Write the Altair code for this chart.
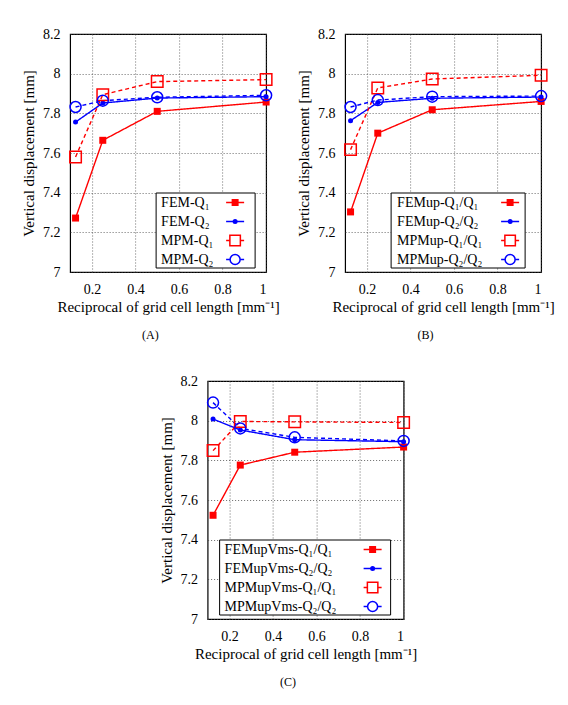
import altair as alt
import pandas as pd

FONT = "Liberation Serif"

# x positions (reciprocal of grid cell length)
X = [0.125, 0.25, 0.5, 1.0]
X_TICKS = [0.2, 0.4, 0.6, 0.8, 1.0]
Y_TICKS = [7.0, 7.2, 7.4, 7.6, 7.8, 8.0, 8.2]

# Panel (A)
A_NAMES = ["FEM-Q₁", "FEM-Q₂", "MPM-Q₁", "MPM-Q₂"]
A_FEM_Q1 = [7.272, 7.664, 7.810, 7.857]
A_FEM_Q2 = [7.756, 7.852, 7.877, 7.884]
A_MPM_Q1 = [7.580, 7.894, 7.960, 7.970]
A_MPM_Q2 = [7.832, 7.864, 7.881, 7.891]

# Panel (B)
B_NAMES = ["FEMup-Q₁/Q₁", "FEMup-Q₂/Q₂", "MPMup-Q₁/Q₁", "MPMup-Q₂/Q₂"]
B_FEM_Q1 = [7.303, 7.700, 7.818, 7.860]
B_FEM_Q2 = [7.763, 7.855, 7.876, 7.882]
B_MPM_Q1 = [7.617, 7.928, 7.973, 7.992]
B_MPM_Q2 = [7.832, 7.867, 7.884, 7.887]

# Panel (C)
C_NAMES = ["FEMupVms-Q₁/Q₁", "FEMupVms-Q₂/Q₂", "MPMupVms-Q₁/Q₁", "MPMupVms-Q₂/Q₂"]
C_FEM_Q1 = [7.523, 7.776, 7.841, 7.867]
C_FEM_Q2 = [8.008, 7.953, 7.904, 7.894]
C_MPM_Q1 = [7.849, 7.996, 7.994, 7.991]
C_MPM_Q2 = [8.091, 7.961, 7.916, 7.898]

ALL_NAMES = A_NAMES + B_NAMES + C_NAMES

COLORS = ["#ff0000", "#0000ff", "#ff0000", "#0000ff"]
DASHES = [[1, 0], [1, 0], [4, 3], [4, 3]]
POINT_SHAPES = ["square", "circle", "square", "circle"]
POINT_SIZES = [49, 25, 132, 121]
LEGEND_SIZES = [49, 25, 110, 100]
POINT_FILLED = [True, True, False, False]

XTITLE = "Reciprocal of grid cell length [mm⁻¹]"
YTITLE = "Vertical displacement [mm]"

# legend box layout (pixels inside each plot area)
LEG_ROWS = [168.5, 187.5, 206.5, 225.5]
LEG_TOP, LEG_BOTTOM = 159, 234
LEG_SYM_X, LEG_LINE_X1, LEG_LINE_X2 = 165, 156, 174


def panel(names, series, caption, box_x1, box_x2, label_x):
    rows = []
    for name, vals in zip(names, series):
        for xv, yv in zip(X, vals):
            rows.append({"x": xv, "y": yv, "series": name})
    df = pd.DataFrame(rows)
    base = alt.Chart(df)
    xenc = alt.X(
        "x:Q",
        scale=alt.Scale(domain=[0.1, 1.0], nice=False, zero=False),
        axis=alt.Axis(values=X_TICKS, format="~g", title=XTITLE),
    )
    yenc = alt.Y(
        "y:Q",
        scale=alt.Scale(domain=[7.0, 8.2], nice=False, zero=False),
        axis=alt.Axis(values=Y_TICKS, format="~g", title=YTITLE),
    )
    lines = base.mark_line(strokeWidth=1.4).encode(
        x=xenc,
        y=yenc,
        color=alt.Color("series:N", scale=alt.Scale(domain=ALL_NAMES, range=COLORS * 3), legend=None),
        strokeDash=alt.StrokeDash("series:N", scale=alt.Scale(domain=ALL_NAMES, range=DASHES * 3), legend=None),
    )
    layers = [lines]
    for k in range(4):
        layers.append(
            base.transform_filter(alt.datum.series == names[k])
            .mark_point(
                shape=POINT_SHAPES[k],
                size=POINT_SIZES[k],
                filled=POINT_FILLED[k],
                color=COLORS[k],
                strokeWidth=1.5,
                opacity=1,
            )
            .encode(x=xenc, y=yenc)
        )

    # legend (drawn as a boxed key inside the plot, like the original)
    one = alt.Chart(pd.DataFrame({"one": [0]}))
    layers.append(
        one.mark_rect(fill="white", stroke="black", strokeWidth=1).encode(
            x=alt.value(box_x1), x2=alt.value(box_x2),
            y=alt.value(LEG_TOP), y2=alt.value(LEG_BOTTOM),
        )
    )
    for k in range(4):
        ry = LEG_ROWS[k]
        lab = alt.Chart(pd.DataFrame({"label": [names[k]]}))
        layers.append(
            lab.mark_text(align="left", baseline="middle", font=FONT, fontSize=14, color="black").encode(
                x=alt.value(label_x), y=alt.value(ry), text="label:N"
            )
        )
        layers.append(
            one.mark_rule(color=COLORS[k], strokeWidth=1.4, strokeDash=DASHES[k]).encode(
                x=alt.value(LEG_LINE_X1), x2=alt.value(LEG_LINE_X2), y=alt.value(ry)
            )
        )
        layers.append(
            one.mark_point(
                shape=POINT_SHAPES[k],
                size=LEGEND_SIZES[k],
                filled=POINT_FILLED[k],
                color=COLORS[k],
                fill=COLORS[k] if POINT_FILLED[k] else "white",
                strokeWidth=1.5,
                opacity=1,
            ).encode(x=alt.value(LEG_SYM_X), y=alt.value(ry))
        )

    return alt.layer(*layers).properties(
        width=196,
        height=238,
        title=alt.TitleParams(
            caption,
            orient="bottom",
            anchor="middle",
            frame="bounds",
            font=FONT,
            fontSize=12,
            fontWeight="normal",
            offset=16,
            color="black",
        ),
    )


pa = panel(A_NAMES, [A_FEM_Q1, A_FEM_Q2, A_MPM_Q1, A_MPM_Q2], "(A)", 86, 185, 91)
pb = panel(B_NAMES, [B_FEM_Q1, B_FEM_Q2, B_MPM_Q1, B_MPM_Q2], "(B)", 46, 180, 52)
pc = panel(C_NAMES, [C_FEM_Q1, C_FEM_Q2, C_MPM_Q1, C_MPM_Q2], "(C)", 12, 183, 17)

top = alt.hconcat(pa, pb, spacing=15)
chart = (
    alt.vconcat(top, pc, spacing=31, center=True)
    .properties(padding={"left": 13, "top": 18, "right": 5, "bottom": 5})
    .configure(font=FONT)
    .configure_view(stroke="black", strokeWidth=1.2)
    .configure_axis(
        labelFont=FONT,
        titleFont=FONT,
        labelFontSize=14,
        titleFontSize=15,
        titleFontWeight="normal",
        labelColor="black",
        titleColor="black",
        ticks=False,
        tickSize=0,
        domain=False,
        grid=True,
        gridColor="#444444",
        gridDash=[1, 2],
        gridWidth=0.8,
        gridOpacity=1,
    )
    .configure_axisX(labelPadding=10, titlePadding=3)
    .configure_axisY(labelPadding=10, titlePadding=6)
)

chart.save("out.html", embed_options={"renderer": "svg", "actions": False})
